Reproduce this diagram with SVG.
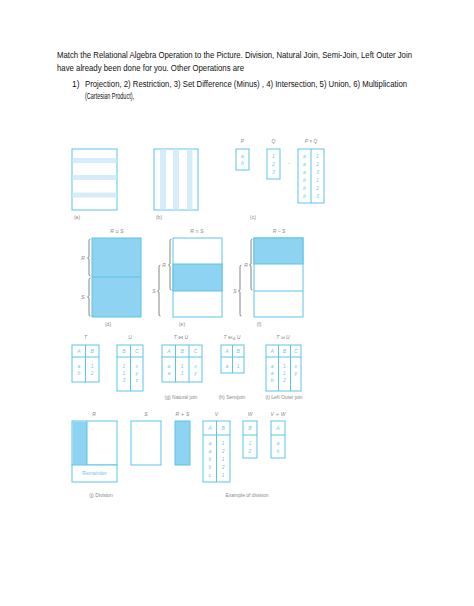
<svg xmlns="http://www.w3.org/2000/svg" width="474" height="606" viewBox="0 0 474 606">
<style>
.box{fill:#fff;stroke:#5cc3ea;stroke-width:1}
.sbox{fill:#8ed3f2;stroke:#5cc3ea;stroke-width:1}
.ln{stroke:#5cc3ea;stroke-width:1;fill:none}
.shade{fill:#8ed3f2}
.band{fill:#d5edf9}
.lbl{font-family:"Liberation Sans",Arial,sans-serif;font-size:5px;font-style:italic;fill:#8a8a8a;text-anchor:middle}
.cap{font-family:"Liberation Sans",Arial,sans-serif;font-size:5px;fill:#8a8a8a;text-anchor:middle}
.val{font-family:"Liberation Sans",Arial,sans-serif;font-size:5px;font-style:italic;fill:#6fc6ee;text-anchor:middle}
.brk{fill:none;stroke:#9a9a9a;stroke-width:1.2}
.top{font-family:"Liberation Sans",Arial,sans-serif;font-size:8.4px;fill:#111}
.sym{font-family:"DejaVu Sans",sans-serif;font-style:normal}
</style>
<rect width="474" height="606" fill="#fff"/>

<g id="title">
<text class="top" x="57" y="57.8" textLength="355" lengthAdjust="spacingAndGlyphs">Match the Relational Algebra Operation to the Picture. Division, Natural Join, Semi-Join, Left Outer Join</text>
<text class="top" x="57" y="70.8" textLength="187" lengthAdjust="spacingAndGlyphs">have already been done for you. Other Operations are</text>
<text class="top" x="72" y="86.8">1)</text>
<text class="top" x="85" y="86.8" textLength="322" lengthAdjust="spacingAndGlyphs">Projection, 2) Restriction,  3) Set Difference (Minus) , 4) Intersection,  5) Union,  6) Multiplication</text>
<text class="top" x="85" y="98.8" textLength="49" lengthAdjust="spacingAndGlyphs">(Cartesian Product),</text>
</g>

<g id="node-a">
<rect class="box" x="72" y="149" width="45" height="61"/>
<rect class="band" x="72.5" y="158" width="44" height="5"/>
<rect class="band" x="72.5" y="175" width="44" height="5"/>
<rect class="band" x="72.5" y="192.5" width="44" height="5"/>
<text class="cap" x="77" y="219">(a)</text>
</g>

<g id="node-b">
<rect class="box" x="154" y="149" width="44" height="61"/>
<rect class="band" x="160" y="149.5" width="6" height="60"/>
<rect class="band" x="173" y="149.5" width="6" height="60"/>
<rect class="band" x="187" y="149.5" width="5.5" height="60"/>
<text class="cap" x="159" y="219">(b)</text>
</g>

<g id="node-c">
<text class="lbl" x="242.5" y="143">P</text>
<rect class="box" x="236" y="149" width="13" height="21"/>
<text class="val" x="242.5" y="157.8">a</text>
<text class="val" x="242.5" y="165">b</text>
<text class="lbl" x="273.5" y="143">Q</text>
<rect class="box" x="267" y="149" width="13" height="30"/>
<text class="val" x="273.5" y="157.8">1</text>
<text class="val" x="273.5" y="165.5">2</text>
<text class="val" x="273.5" y="173.5">3</text>
<text class="cap" x="289" y="165">-</text>
<text class="lbl" x="311" y="143">P × Q</text>
<rect class="box" x="298" y="149" width="26" height="54"/>
<line class="ln" x1="311" y1="149" x2="311" y2="203"/>
<text class="val" x="304.5" y="157.8">a</text>
<text class="val" x="304.5" y="165.8">a</text>
<text class="val" x="304.5" y="173.8">a</text>
<text class="val" x="304.5" y="181.8">b</text>
<text class="val" x="304.5" y="189.8">b</text>
<text class="val" x="304.5" y="197.8">b</text>
<text class="val" x="317.5" y="157.8">1</text>
<text class="val" x="317.5" y="165.8">2</text>
<text class="val" x="317.5" y="173.8">3</text>
<text class="val" x="317.5" y="181.8">1</text>
<text class="val" x="317.5" y="189.8">2</text>
<text class="val" x="317.5" y="197.8">3</text>
<text class="cap" x="253" y="219">(c)</text>
</g>

<g id="node-d">
<text class="lbl" x="117" y="233">R <tspan class="sym">∪</tspan> S</text>
<rect class="sbox" x="92" y="238" width="49" height="79"/>
<line class="ln" x1="92" y1="277" x2="141" y2="277"/>
<text class="lbl" x="83" y="260">R</text>
<text class="lbl" x="83" y="299">S</text>
<text class="cap" x="108" y="326">(d)</text>
</g>

<g id="node-e">
<text class="lbl" x="197" y="233">R <tspan class="sym">∩</tspan> S</text>
<rect class="box" x="173" y="238" width="49" height="79"/>
<rect class="sbox" x="173" y="264" width="49" height="27"/>
<text class="lbl" x="164" y="267">R</text>
<text class="lbl" x="154" y="293">S</text>
<text class="cap" x="182" y="326">(e)</text>
</g>

<g id="node-f">
<text class="lbl" x="279" y="233">R − S</text>
<rect class="box" x="254" y="238" width="49" height="79"/>
<rect class="sbox" x="254" y="238" width="49" height="26"/>
<line class="ln" x1="254" y1="291" x2="303" y2="291"/>
<text class="lbl" x="246" y="267">R</text>
<text class="lbl" x="235" y="293">S</text>
<text class="cap" x="259" y="326">(f)</text>
</g>

<g id="connectors">
<path class="brk" d="M90.5,239 Q89,239 89,241 V256.5 L87.8,258 L89,259.5 V274 Q89,276 90.5,276"/>
<path class="brk" d="M90.5,278 Q89,278 89,280 V295.5 L87.8,297 L89,298.5 V314 Q89,316 90.5,316"/>
<path class="brk" d="M171.5,239 Q170,239 170,241 V263.5 L168.8,265 L170,266.5 V288 Q170,290 171.5,290"/>
<path class="brk" d="M160.5,265 Q159,265 159,267 V289.5 L157.8,291 L159,292.5 V314 Q159,316 160.5,316"/>
<path class="brk" d="M252.5,239 Q251,239 251,241 V263.5 L249.8,265 L251,266.5 V288 Q251,290 252.5,290"/>
<path class="brk" d="M241.5,265 Q240,265 240,267 V289.5 L238.8,291 L240,292.5 V314 Q240,316 241.5,316"/>
</g>

<g id="node-T">
<text class="lbl" x="85.5" y="338.5">T</text>
<rect class="box" x="72" y="345" width="27" height="37"/>
<line class="ln" x1="72" y1="357" x2="99" y2="357"/>
<line class="ln" x1="85.5" y1="345" x2="85.5" y2="382"/>
<text class="val" x="78.8" y="353.3">A</text>
<text class="val" x="92.2" y="353.3">B</text>
<text class="val" x="78.8" y="367.8">a</text>
<text class="val" x="78.8" y="374.8">b</text>
<text class="val" x="92.2" y="367.8">1</text>
<text class="val" x="92.2" y="374.8">2</text>
</g>

<g id="node-U">
<text class="lbl" x="130" y="338.5">U</text>
<rect class="box" x="117" y="345" width="26" height="46"/>
<line class="ln" x1="117" y1="357" x2="143" y2="357"/>
<line class="ln" x1="130.5" y1="345" x2="130.5" y2="391"/>
<text class="val" x="123.8" y="353.3">B</text>
<text class="val" x="136.8" y="353.3">C</text>
<text class="val" x="123.8" y="367.8">1</text>
<text class="val" x="123.8" y="374.8">1</text>
<text class="val" x="123.8" y="381.8">3</text>
<text class="val" x="136.8" y="367.8">x</text>
<text class="val" x="136.8" y="374.8">y</text>
<text class="val" x="136.8" y="381.8">z</text>
</g>

<g id="node-g">
<text class="lbl" x="181" y="338.5">T <tspan class="sym">⋈</tspan> U</text>
<rect class="box" x="162" y="345" width="40" height="37"/>
<line class="ln" x1="162" y1="357" x2="202" y2="357"/>
<line class="ln" x1="175.5" y1="345" x2="175.5" y2="382"/>
<line class="ln" x1="189" y1="345" x2="189" y2="382"/>
<text class="val" x="168.8" y="353.3">A</text>
<text class="val" x="182.2" y="353.3">B</text>
<text class="val" x="195.5" y="353.3">C</text>
<text class="val" x="168.8" y="367.8">a</text>
<text class="val" x="168.8" y="374.8">a</text>
<text class="val" x="182.2" y="367.8">1</text>
<text class="val" x="182.2" y="374.8">1</text>
<text class="val" x="195.5" y="367.8">x</text>
<text class="val" x="195.5" y="374.8">y</text>
<text class="cap" x="181" y="399">(g) Natural join</text>
</g>

<g id="node-h">
<text class="lbl" x="232" y="338.5">T <tspan class="sym">⋉</tspan><tspan font-size="3.5" dy="1">B</tspan><tspan dy="-1"> U</tspan></text>
<rect class="box" x="221" y="345" width="23" height="28"/>
<line class="ln" x1="221" y1="357" x2="244" y2="357"/>
<line class="ln" x1="232.5" y1="345" x2="232.5" y2="373"/>
<text class="val" x="226.8" y="353.3">A</text>
<text class="val" x="238.2" y="353.3">B</text>
<text class="val" x="226.8" y="367.8">a</text>
<text class="val" x="238.2" y="367.8">1</text>
<text class="cap" x="232" y="399">(h) Semijoin</text>
</g>

<g id="node-i">
<text class="lbl" x="283" y="338.5">T <tspan class="sym">⟕</tspan> U</text>
<rect class="box" x="266" y="345" width="35" height="46"/>
<line class="ln" x1="266" y1="357" x2="301" y2="357"/>
<line class="ln" x1="278.5" y1="345" x2="278.5" y2="391"/>
<line class="ln" x1="290.5" y1="345" x2="290.5" y2="391"/>
<text class="val" x="272.2" y="353.3">A</text>
<text class="val" x="284.5" y="353.3">B</text>
<text class="val" x="295.8" y="353.3">C</text>
<text class="val" x="272.2" y="367.8">a</text>
<text class="val" x="272.2" y="374.8">a</text>
<text class="val" x="272.2" y="381.8">b</text>
<text class="val" x="284.5" y="367.8">1</text>
<text class="val" x="284.5" y="374.8">1</text>
<text class="val" x="284.5" y="381.8">2</text>
<text class="val" x="295.8" y="367.8">x</text>
<text class="val" x="295.8" y="374.8">y</text>
<text class="cap" x="284" y="399">(i) Left Outer join</text>
</g>

<g id="node-j">
<text class="lbl" x="94" y="415.5">R</text>
<rect class="box" x="72" y="421" width="45" height="44"/>
<rect class="shade" x="72.5" y="421.5" width="14.5" height="43"/>
<line class="ln" x1="87" y1="421" x2="87" y2="465"/>
<rect class="box" x="72" y="465" width="45" height="17"/>
<text class="val" x="94.5" y="475.3" style="font-style:normal">Remainder</text>
<text class="lbl" x="146" y="415.5">S</text>
<rect class="box" x="131" y="421" width="30" height="44"/>
<text class="lbl" x="182.5" y="415.5">R <tspan class="sym">÷</tspan> S</text>
<rect class="sbox" x="175" y="421" width="15" height="44"/>
<text class="cap" x="101" y="496.5">(j) Division</text>
</g>

<g id="node-V">
<text class="lbl" x="216.5" y="415.5">V</text>
<rect class="box" x="203" y="421" width="27" height="61"/>
<line class="ln" x1="203" y1="435" x2="230" y2="435"/>
<line class="ln" x1="216.5" y1="421" x2="216.5" y2="482"/>
<text class="val" x="209.8" y="430.3">A</text>
<text class="val" x="223.2" y="430.3">B</text>
<text class="val" x="209.8" y="444.8">a</text>
<text class="val" x="209.8" y="452.8">a</text>
<text class="val" x="209.8" y="460.8">b</text>
<text class="val" x="209.8" y="468.8">b</text>
<text class="val" x="209.8" y="476.8">c</text>
<text class="val" x="223.2" y="444.8">1</text>
<text class="val" x="223.2" y="452.8">2</text>
<text class="val" x="223.2" y="460.8">1</text>
<text class="val" x="223.2" y="468.8">2</text>
<text class="val" x="223.2" y="476.8">1</text>
</g>

<g id="node-W">
<text class="lbl" x="250" y="415.5">W</text>
<rect class="box" x="243" y="421" width="14" height="37"/>
<line class="ln" x1="243" y1="435" x2="257" y2="435"/>
<text class="val" x="250" y="430.3">B</text>
<text class="val" x="250" y="444.8">1</text>
<text class="val" x="250" y="452.8">2</text>
</g>

<g id="node-VW">
<text class="lbl" x="278" y="415.5">V <tspan class="sym">÷</tspan> W</text>
<rect class="box" x="271" y="421" width="14" height="37"/>
<line class="ln" x1="271" y1="435" x2="285" y2="435"/>
<text class="val" x="278" y="430.3">A</text>
<text class="val" x="278" y="444.8">a</text>
<text class="val" x="278" y="452.8">b</text>
<text class="cap" x="247" y="496.5">Example of division</text>
</g>
</svg>
